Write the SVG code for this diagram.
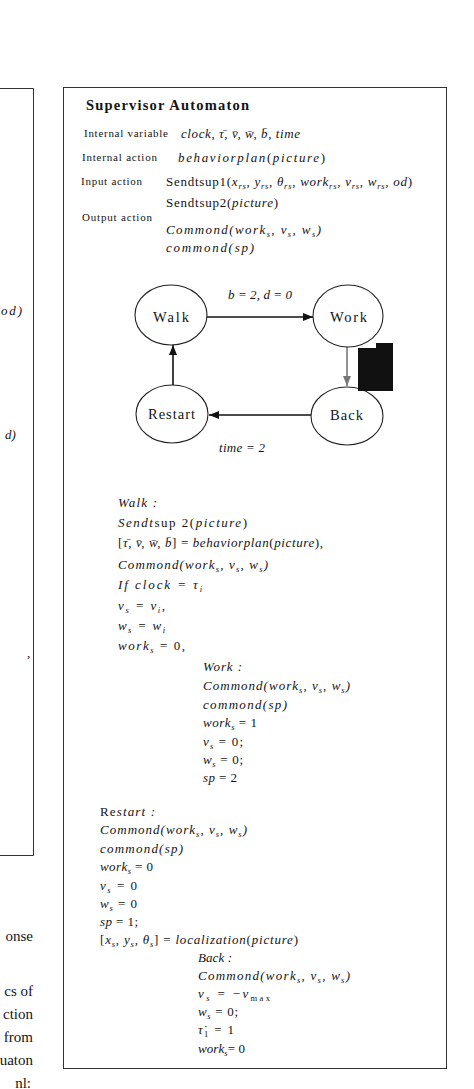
<svg xmlns="http://www.w3.org/2000/svg" width="474" height="1089" viewBox="0 0 474 1089">
<style>
text{font-family:"Liberation Serif","Times New Roman",serif;fill:#141414}
.lb{font-size:11px}
.m{font-size:13px;font-style:italic}
.u{font-style:normal}
.s{font-size:8.5px}
.nd{font-size:14.5px}
.ell{fill:#fff;stroke:#222;stroke-width:1.1}
.ln{stroke:#111;stroke-width:1.6;fill:none}
.body{font-size:15px;text-anchor:end}
</style>
<defs>
<marker id="ah" markerUnits="userSpaceOnUse" markerWidth="10" markerHeight="8" refX="10" refY="4" orient="auto"><path d="M0,0 L10,4 L0,8 z" fill="#111"/></marker>
<marker id="ahg" markerUnits="userSpaceOnUse" markerWidth="10" markerHeight="8" refX="10" refY="4" orient="auto"><path d="M0,0 L10,4 L0,8 z" fill="#777"/></marker>
</defs>
<rect width="474" height="1089" fill="#fff"/>

<g id="left-page">
<path d="M0,88.5 H33.5 V855.5 H0" fill="none" stroke="#333" stroke-width="1"/>
<text class="m" x="1" y="315" textLength="21">od)</text>
<text class="m" x="5" y="439">d)</text>
<text class="m" x="27" y="657">,</text>
<text class="body" x="33" y="941">onse</text>
<text class="body" x="33" y="996">cs of</text>
<text class="body" x="33" y="1019">ction</text>
<text class="body" x="33" y="1042">from</text>
<text class="body" x="33" y="1065">uaton</text>
<text class="body" x="31" y="1088">nl:</text>
</g>

<g id="frame">
<rect x="63.5" y="87.5" width="383" height="981" fill="none" stroke="#333" stroke-width="1"/>
</g>

<g id="header">
<text x="86" y="110" font-size="14.5" font-weight="bold" textLength="163" lengthAdjust="spacing">Supervisor Automaton</text>
<text class="lb" x="84" y="137" textLength="84">Internal variable</text>
<text class="m" x="181" y="138" textLength="119">clock, τ̄, v̄, w̄, b̄, time</text>
<text class="lb" x="82" y="161" textLength="75">Internal action</text>
<text class="m" x="178" y="162" textLength="147">behaviorplan<tspan class="u">(</tspan>picture<tspan class="u">)</tspan></text>
<text class="lb" x="81" y="185" textLength="61">Input action</text>
<text class="m" x="166" y="186" textLength="246"><tspan class="u">Sendtsup1(</tspan>x<tspan class="s" dy="3">rs</tspan><tspan dy="-3">, y</tspan><tspan class="s" dy="3">rs</tspan><tspan dy="-3">, θ</tspan><tspan class="s" dy="3">rs</tspan><tspan dy="-3">, work</tspan><tspan class="s" dy="3">rs</tspan><tspan dy="-3">, v</tspan><tspan class="s" dy="3">rs</tspan><tspan dy="-3">, w</tspan><tspan class="s" dy="3">rs</tspan><tspan dy="-3">, od</tspan><tspan class="u">)</tspan></text>
<text class="m" x="166" y="207" textLength="112"><tspan class="u">Sendtsup2(</tspan>picture<tspan class="u">)</tspan></text>
<text class="lb" x="82" y="221" textLength="70">Output action</text>
<text class="m" x="166" y="234" textLength="155">Commond(work<tspan class="s" dy="3">s</tspan><tspan dy="-3">, v</tspan><tspan class="s" dy="3">s</tspan><tspan dy="-3">, w</tspan><tspan class="s" dy="3">s</tspan><tspan dy="-3">)</tspan></text>
<text class="m" x="166" y="252" textLength="88">commond(sp)</text>
</g>

<g id="connectors">
<line class="ln" x1="207" y1="317" x2="313" y2="317" marker-end="url(#ah)"/>
<line class="ln" x1="347" y1="347" x2="347" y2="386" style="stroke:#777" marker-end="url(#ahg)"/>
<line class="ln" x1="312" y1="415" x2="209" y2="415" marker-end="url(#ah)"/>
<line class="ln" x1="173" y1="385" x2="173" y2="345" marker-end="url(#ah)"/>
<text class="m" x="228" y="299" textLength="64">b = 2, d = 0</text>
<text class="m" x="219" y="452" textLength="46">time = 2</text>
</g>

<g id="node-walk">
<ellipse class="ell" cx="171" cy="315" rx="36" ry="30"/>
<text class="nd" x="153" y="322" textLength="36">Walk</text>
</g>
<g id="node-work">
<ellipse class="ell" cx="348" cy="316" rx="35" ry="31"/>
<text class="nd" x="330" y="322" textLength="37">Work</text>
</g>
<g id="node-restart">
<ellipse class="ell" cx="172" cy="414" rx="36" ry="29"/>
<text class="nd" x="148" y="419" textLength="47">Restart</text>
</g>
<g id="node-back">
<ellipse class="ell" cx="347" cy="416" rx="36" ry="29"/>
<text class="nd" x="330" y="420" textLength="33">Back</text>
</g>
<g id="black-mark">
<polygon points="358,348 376,348 376,343 393,343 393,391 358,391" fill="#111"/>
</g>

<g id="walk-code">
<text class="m" x="118" y="507" textLength="39">Walk :</text>
<text class="m" x="118" y="527" textLength="129">Sendt<tspan class="u">sup 2(</tspan>picture<tspan class="u">)</tspan></text>
<text class="m" x="118" y="547" textLength="205"><tspan class="u">[</tspan>τ̄, v̄, w̄, b̄<tspan class="u">] = </tspan>behaviorplan<tspan class="u">(</tspan>picture<tspan class="u">),</tspan></text>
<text class="m" x="118" y="569" textLength="150">Commond(work<tspan class="s" dy="3">s</tspan><tspan dy="-3">, v</tspan><tspan class="s" dy="3">s</tspan><tspan dy="-3">, w</tspan><tspan class="s" dy="3">s</tspan><tspan dy="-3">)</tspan></text>
<text class="m" x="118" y="589" textLength="84">If clock = τ<tspan class="s" dy="3">i</tspan></text>
<text class="m" x="118" y="610" textLength="47">v<tspan class="s" dy="3">s</tspan><tspan dy="-3"> = v</tspan><tspan class="s" dy="3">i</tspan><tspan dy="-3">,</tspan></text>
<text class="m" x="118" y="630" textLength="47">w<tspan class="s" dy="3">s</tspan><tspan dy="-3"> = w</tspan><tspan class="s" dy="3">i</tspan></text>
<text class="m" x="118" y="650" textLength="67">work<tspan class="s" dy="3">s</tspan><tspan dy="-3" class="u"> = 0,</tspan></text>
</g>

<g id="work-code">
<text class="m" x="203" y="671" textLength="39">Work :</text>
<text class="m" x="203" y="690" textLength="147">Commond(work<tspan class="s" dy="3">s</tspan><tspan dy="-3">, v</tspan><tspan class="s" dy="3">s</tspan><tspan dy="-3">, w</tspan><tspan class="s" dy="3">s</tspan><tspan dy="-3">)</tspan></text>
<text class="m" x="203" y="709" textLength="84">commond(sp)</text>
<text class="m" x="203" y="727" textLength="54">work<tspan class="s" dy="3">s</tspan><tspan dy="-3" class="u"> = 1</tspan></text>
<text class="m" x="203" y="746" textLength="40">v<tspan class="s" dy="3">s</tspan><tspan dy="-3" class="u"> = 0;</tspan></text>
<text class="m" x="203" y="764" textLength="40">w<tspan class="s" dy="3">s</tspan><tspan dy="-3" class="u"> = 0;</tspan></text>
<text class="m" x="203" y="782" textLength="34">sp<tspan class="u"> = 2</tspan></text>
</g>

<g id="restart-code">
<text class="m" x="100" y="816" textLength="55"><tspan class="u">Re</tspan>start :</text>
<text class="m" x="100" y="834" textLength="147">Commond(work<tspan class="s" dy="3">s</tspan><tspan dy="-3">, v</tspan><tspan class="s" dy="3">s</tspan><tspan dy="-3">, w</tspan><tspan class="s" dy="3">s</tspan><tspan dy="-3">)</tspan></text>
<text class="m" x="100" y="853" textLength="83">commond(sp)</text>
<text class="m" x="100" y="871" textLength="53">work<tspan class="s" dy="3">s</tspan><tspan dy="-3" class="u"> = 0</tspan></text>
<text class="m" x="100" y="890" textLength="37">v<tspan class="s" dy="3">s</tspan><tspan dy="-3" class="u"> = 0</tspan></text>
<text class="m" x="100" y="908" textLength="37">w<tspan class="s" dy="3">s</tspan><tspan dy="-3" class="u"> = 0</tspan></text>
<text class="m" x="100" y="926" textLength="38">sp<tspan class="u"> = 1;</tspan></text>
<text class="m" x="100" y="944" textLength="198"><tspan class="u">[</tspan>x<tspan class="s" dy="3">s</tspan><tspan dy="-3">, y</tspan><tspan class="s" dy="3">s</tspan><tspan dy="-3">, θ</tspan><tspan class="s" dy="3">s</tspan><tspan dy="-3" class="u">] = </tspan>localization<tspan class="u">(</tspan>picture<tspan class="u">)</tspan></text>
</g>

<g id="back-code">
<text class="m" x="198" y="962" textLength="34">Back :</text>
<text class="m" x="198" y="980" textLength="152">Commond(work<tspan class="s" dy="3">s</tspan><tspan dy="-3">, v</tspan><tspan class="s" dy="3">s</tspan><tspan dy="-3">, w</tspan><tspan class="s" dy="3">s</tspan><tspan dy="-3">)</tspan></text>
<text class="m" x="198" y="998" textLength="72">v<tspan class="s" dy="3">s</tspan><tspan dy="-3" class="u"> = −</tspan>v<tspan class="s u" dy="3">max</tspan></text>
<text class="m" x="198" y="1016" textLength="40">w<tspan class="s" dy="3">s</tspan><tspan dy="-3" class="u"> = 0;</tspan></text>
<text class="m" x="198" y="1034" textLength="36">τ̇<tspan class="s u" dy="3">1</tspan><tspan dy="-3" class="u"> = 1</tspan></text>
<text class="m" x="198" y="1053" textLength="47">work<tspan class="s" dy="3">s</tspan><tspan dy="-3" class="u">= 0</tspan></text>
</g>
</svg>
